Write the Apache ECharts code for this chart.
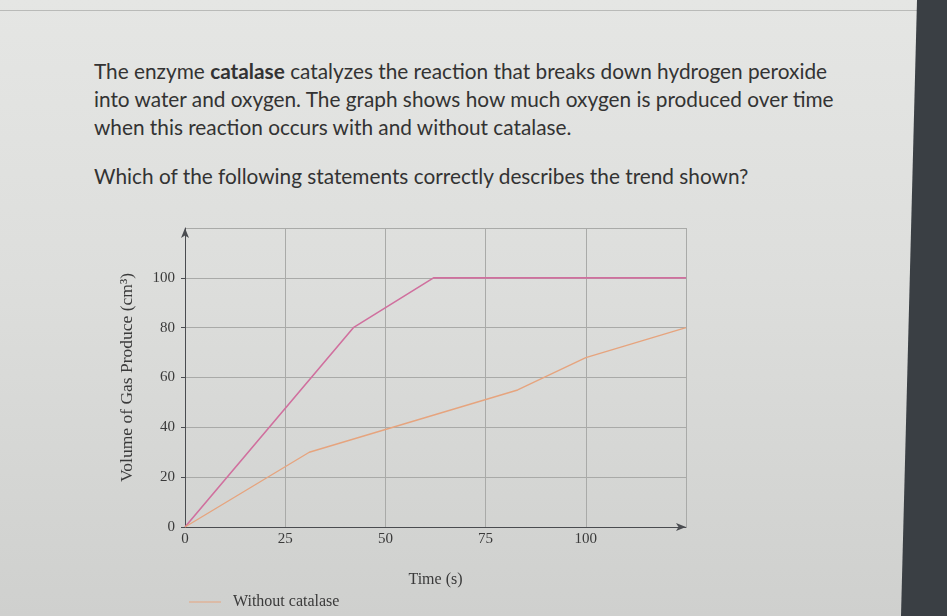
<!DOCTYPE html>
<html>
<head>
<meta charset="utf-8">
<script src="https://cdn.jsdelivr.net/npm/echarts@6/dist/echarts.min.js"></script>
<style>
    html, body { margin: 0; padding: 0; }
    body {
        width: 947px;
        height: 616px;
        overflow: hidden;
        position: relative;
        background: linear-gradient(180deg, #e5e6e4 0%, #dddedc 45%, #cfd0ce 100%);
    }
    .topline {
        position: absolute; left: 0; top: 10px; width: 917px; height: 1px;
        background: #b9bab8;
    }
    .sidebar {
        position: absolute; left: 880px; top: 0; width: 67px; height: 616px;
        background: #3a3f44;
        clip-path: polygon(37px 0, 67px 0, 67px 616px, 21px 616px);
    }
    .question {
        position: absolute; left: 94px; top: 57px; width: 820px;
        font-family: Lato, 'Open Sans', sans-serif;
        font-size: 20.8px;
        line-height: 28px;
        color: #333;
        white-space: nowrap;
    }
    .question p { margin: 0 0 21px 0; }
    #chart { position: absolute; left: 0; top: 0; width: 947px; height: 616px; }
</style>
</head>
<body>
<div class="topline"></div>
<div class="sidebar"></div>
<div class="question">
    <p>The enzyme <b>catalase</b> catalyzes the reaction that breaks down hydrogen peroxide<br>
    into water and oxygen. The graph shows how much oxygen is produced over time<br>
    when this reaction occurs with and without catalase.</p>
    <p>Which of the following statements correctly describes the trend shown?</p>
</div>
<div id="chart"></div>
<script>
// time (s) / volume (cm3)
const withCatalase = [[0, 0], [42, 80], [62, 100], [125, 100]];
const withoutCatalase = [[0, 0], [31, 30], [83, 55], [100, 68], [125, 80]];
const xTicks = [0, 25, 50, 75, 100];
const yTicks = [0, 20, 40, 60, 80, 100];

const SERIF = "'Liberation Serif', 'DejaVu Serif', serif";

const chart = echarts.init(document.getElementById('chart'));

const gridLine = {
    show: true,
    lineStyle: { color: '#a9aaa8', width: 1 }
};

chart.setOption({
    backgroundColor: 'transparent',
    animation: false,
    grid: { left: 185, right: 261, top: 228, bottom: 89 },
    legend: {
        left: 184,
        top: 589,
        icon: 'rect',
        itemWidth: 32,
        itemHeight: 1,
        itemGap: 40,
        data: ['Without catalase'],
        textStyle: { fontFamily: SERIF, fontSize: 16, color: '#3a3a3a', padding: [0, 0, 0, 7] }
    },
    xAxis: {
        type: 'value',
        min: 0,
        max: 125,
        interval: 25,
        name: 'Time (s)',
        nameLocation: 'middle',
        nameGap: 45,
        nameTextStyle: { fontFamily: SERIF, fontSize: 16, color: '#3a3a3a' },
        axisLine: {
            show: true,
            symbol: ['none', 'arrow'],
            symbolSize: [6, 10],
            lineStyle: { color: '#4a4c50', width: 1 }
        },
        axisTick: { show: false },
        splitLine: gridLine,
        axisLabel: {
            showMaxLabel: false,
            margin: 5,
            fontFamily: SERIF,
            fontSize: 15,
            color: '#3a3a3a',
            formatter: v => (xTicks.includes(v) ? String(v) : '')
        }
    },
    yAxis: {
        type: 'value',
        min: 0,
        max: 120,
        interval: 20,
        name: 'Volume of Gas Produce (cm³)',
        nameLocation: 'middle',
        nameGap: 49,
        nameTextStyle: { fontFamily: SERIF, fontSize: 17.5, color: '#3a3a3a' },
        axisLine: {
            show: true,
            symbol: ['none', 'arrow'],
            symbolSize: [6, 10],
            lineStyle: { color: '#4a4c50', width: 1 }
        },
        axisTick: { show: true, length: 4, lineStyle: { color: '#4a4c50' } },
        splitLine: gridLine,
        axisLabel: {
            showMaxLabel: false,
            margin: 10,
            fontFamily: SERIF,
            fontSize: 15,
            color: '#3a3a3a',
            formatter: v => (yTicks.includes(v) ? String(v) : '')
        }
    },
    series: [
        {
            name: 'With catalase',
            type: 'line',
            data: withCatalase,
            showSymbol: false,
            lineStyle: { color: '#d0709e', width: 1.6 },
            itemStyle: { color: '#d0709e' }
        },
        {
            name: 'Without catalase',
            type: 'line',
            data: withoutCatalase,
            showSymbol: false,
            lineStyle: { color: '#e6a47e', width: 1.4 },
            itemStyle: { color: '#e6a47e' }
        }
    ]
});
</script>
</body>
</html>
